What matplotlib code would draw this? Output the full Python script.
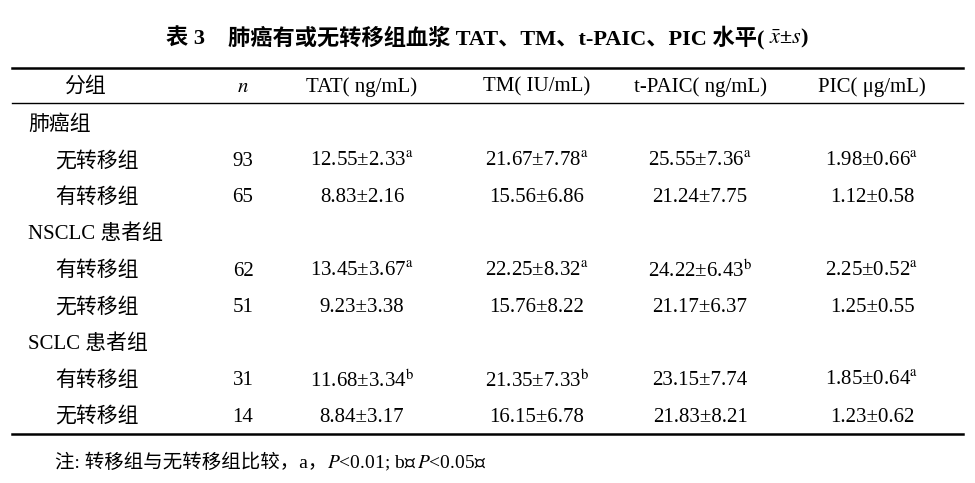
import matplotlib.pyplot as plt

plt.rcParams['font.family'] = ['Liberation Serif', 'Noto Sans CJK SC', 'DejaVu Sans']
plt.rcParams['mathtext.fontset'] = 'stix'

headers = ["分组", "$n$", "TAT( ng/mL)", "TM( IU/mL)", "t-PAIC( ng/mL)", "PIC( μg/mL)"]
groups = ["肺癌组", "NSCLC 患者组", "SCLC 患者组"]
sub_labels = [["无转移组", "有转移组"], ["有转移组", "无转移组"], ["有转移组", "无转移组"]]
n_values = [[93, 65], [62, 51], [31, 14]]
tat = [["12.55±2.33$^{\\mathrm{a}}$", "8.83±2.16"], ["13.45±3.67$^{\\mathrm{a}}$", "9.23±3.38"],
       ["11.68±3.34$^{\\mathrm{b}}$", "8.84±3.17"]]
tm = [["21.67±7.78$^{\\mathrm{a}}$", "15.56±6.86"], ["22.25±8.32$^{\\mathrm{a}}$", "15.76±8.22"],
      ["21.35±7.33$^{\\mathrm{b}}$", "16.15±6.78"]]
tpaic = [["25.55±7.36$^{\\mathrm{a}}$", "21.24±7.75"], ["24.22±6.43$^{\\mathrm{b}}$", "21.17±6.37"],
         ["23.15±7.74", "21.83±8.21"]]
pic = [["1.98±0.66$^{\\mathrm{a}}$", "1.12±0.58"], ["2.25±0.52$^{\\mathrm{a}}$", "1.25±0.55"],
       ["1.85±0.64$^{\\mathrm{a}}$", "1.23±0.62"]]

title_parts = ["表 3　", "肺癌有或无转移组血浆 TAT、TM、t-PAIC、PIC 水平(", " $\\bar{x}$±$s$)"]
note_parts = ["注: 转移组与无转移组比较，a，", "$P$<0.01; b，", "$P$<0.05。"]

fig = plt.figure(figsize=(9.75, 4.83), dpi=100)
ax = fig.add_axes([0, 0, 1, 1])
ax.set_xlim(0, 975)
ax.set_ylim(483, 0)
ax.axis('off')
renderer = fig.canvas.get_renderer()


def draw_run(parts, x, y, **kw):
    # draw text pieces one after another so mathtext does not break CJK fallback
    texts = []
    for p in parts:
        t = ax.text(x, y, p, ha='left', va='center', **kw)
        bb = t.get_window_extent(renderer)
        x += bb.width
        texts.append(t)
    return x, texts


fs = 15
# measure title, then center it
end, ts = draw_run(title_parts, 0, 38, fontsize=16, fontweight='bold')
shift = (975 - end) / 2 - 0
for t in ts:
    t.set_x(t.get_position()[0] + shift)

ax.plot([12, 963], [68, 68], color='black', lw=1.8)
ax.plot([12, 963], [103, 103], color='black', lw=1.0)
ax.plot([12, 963], [434, 434], color='black', lw=1.8)

col_x = [85, 243, 362, 537, 700, 872]
for x, h in zip(col_x, headers):
    ax.text(x, 87, h, ha='center', va='center', fontsize=fs)

y = 125
for g in range(3):
    ax.text(28, y, groups[g], ha='left', va='center', fontsize=fs)
    y += 36.5
    for r in range(2):
        ax.text(55, y, sub_labels[g][r], ha='left', va='center', fontsize=fs)
        vals = [str(n_values[g][r]), tat[g][r], tm[g][r], tpaic[g][r], pic[g][r]]
        for x, v in zip(col_x[1:], vals):
            ax.text(x, y, v, ha='center', va='center', fontsize=fs)
        y += 36.5

draw_run(note_parts, 55, 463, fontsize=14)

fig.savefig("out.png", dpi=100)
